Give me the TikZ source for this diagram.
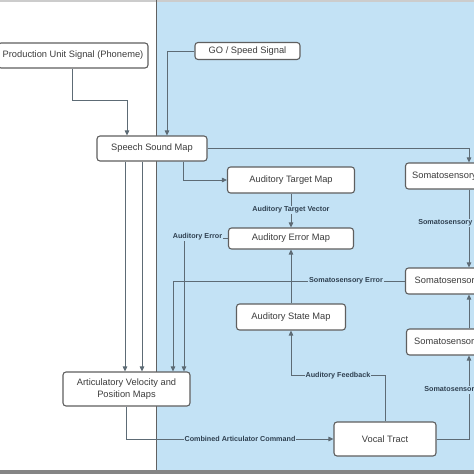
\documentclass[tikz,border=0pt]{standalone}
\usepackage{fontspec}
\setmainfont{Liberation Sans}
\usetikzlibrary{arrows.meta}
\definecolor{bgblue}{HTML}{C3E2F5}
\definecolor{boxc}{HTML}{5F5F5F}
\definecolor{linec}{HTML}{5D6B75}
\definecolor{txt}{HTML}{3C3C3C}
\definecolor{labc}{HTML}{2F4050}
\tikzset{
  box/.style={draw=boxc, fill=white, rounded corners=3pt, line width=1.1pt, inner sep=0pt,
    align=center, text=txt, font=\fontsize{9.3}{11.3}\selectfont},
  conn/.style={draw=linec, line width=0.9pt},
  arr/.style={conn, -{Triangle[length=5pt,width=4.5pt]}},
  lab/.style={font=\bfseries\fontsize{7.2}{8}\selectfont, text=labc, fill=bgblue, inner sep=1pt}
}
\begin{document}
\begin{tikzpicture}[x=1pt,y=-1pt]
\useasboundingbox (0,0) rectangle (474,474);
\clip (0,0) rectangle (474,474);
% background
\fill[white] (0,0) rectangle (157,474);
\fill[bgblue] (157,0) rectangle (474,474);
\fill[black!20] (0,0) rectangle (474,2);
\fill[black!48] (0,470) rectangle (474,474);
\draw[black!62, line width=1.5pt] (156.5,0) -- (156.5,470);

% nodes
\node[box, minimum width=150pt, minimum height=25pt] (PU) at (73,55.5) {Production Unit Signal (Phoneme)};
\node[box, minimum width=105pt, minimum height=17pt] (GO) at (247.5,51) {GO / Speed Signal};
\node[box, minimum width=110pt, minimum height=25pt] (SSM) at (152,148.5) {Speech Sound Map};
\node[box, minimum width=127pt, minimum height=26pt] (ATM) at (291,180) {Auditory Target Map};
\node[box, minimum width=125pt, minimum height=21pt] (AEM) at (291,238.5) {Auditory Error Map};
\node[box, minimum width=109pt, minimum height=26pt] (ASM) at (291,317) {Auditory State Map};
\node[box, minimum width=127pt, minimum height=26pt] (ST) at (469,176) {Somatosensory Target Map};
\node[box, minimum width=127pt, minimum height=26pt] (SE) at (469,281) {Somatosensory Error Map};
\node[box, minimum width=125pt, minimum height=26pt] (SS) at (469,342) {Somatosensory State Map};
\node[box, minimum width=127pt, minimum height=34pt] (ART) at (126.5,389) {Articulatory Velocity and\\Position Maps};
\node[box, minimum width=102pt, minimum height=34pt] (VT) at (385,439) {Vocal Tract};

% connectors
\draw[arr] ([xshift=-1pt]PU.south) -- ++(0,32) -| ([xshift=-25pt]SSM.north);
\draw[arr] (GO.west) -| ([xshift=15pt]SSM.north);
\draw[arr] (SSM.east) -| (ST.north);
\draw[arr] ([xshift=31pt]SSM.south) |- (ATM.west);
\path ([xshift=-27pt]SSM.south) coordinate (s1) ([xshift=-10pt]SSM.south) coordinate (s2);
\draw[arr] (s1) -- (s1 |- ART.north);
\draw[arr] (s2) -- (s2 |- ART.north);
\draw[arr] (AEM.west) -| ([xshift=57.5pt]ART.north);
\node[lab] (lAE) at (197.5,237) {Auditory Error};
\draw[arr] (SE.west) -| ([xshift=46.5pt]ART.north);
\node[lab] (lSE) at (346,280.5) {Somatosensory Error};
\draw[arr] (ATM.south) -- (AEM.north);
\node[lab] (lATV) at (291,210) {Auditory Target Vector};
\draw[arr] (ASM.north) -- (AEM.south);
\draw[arr] (VT.north) -- ++(0,-46) -| (ASM.south);
\node[lab] (lAF) at (338,376) {Auditory Feedback};
\draw[arr] (ART.south) |- (VT.west);
\node[lab] (lCAC) at (240,438.5) {Combined Articulator Command};
\draw[arr] (VT.east) -| (SS.south);
\node[lab] (lSF) at (469,390) {Somatosensory Feedback};
\draw[arr] (ST.south) -- (SE.north);
\node[lab] (lSTV) at (469,223) {Somatosensory Target Vector};
\draw[arr] (SS.north) -- (SE.south);
\end{tikzpicture}
\end{document}
